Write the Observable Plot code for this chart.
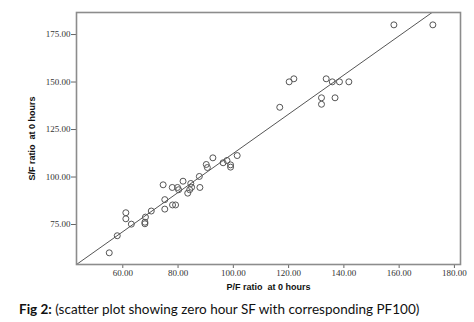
<!DOCTYPE html>
<html>
<head>
<meta charset="utf-8">
<script src="https://cdn.jsdelivr.net/npm/d3@7"></script>
<script src="https://cdn.jsdelivr.net/npm/@observablehq/plot@0.6"></script>
<style>
  html, body { margin: 0; padding: 0; background: #fff; }
  #chart svg { display: block; }
  #chart g[aria-label="x-axis label"] text,
  #chart g[aria-label="y-axis label"] text {
    font-family: "Liberation Sans", Arial, sans-serif;
    font-weight: bold;
    font-size: 9px;
    white-space: pre;
    fill: #111;
  }
  #caption {
    margin: 4px 0 0 19px;
    font-family: Lato, "DejaVu Sans", sans-serif;
    font-size: 13.5px;
    line-height: 18px;
    color: #111;
    white-space: nowrap;
  }
  #caption b { font-weight: bold; }
</style>
</head>
<body>
<div id="chart"></div>
<div id="caption"><b>Fig 2:</b> (scatter plot showing zero hour SF with corresponding PF100)</div>
<script>
// P/F ratio at 0 hours (x) and S/F ratio at 0 hours (y), one entry per patient
const pfRatio = [
  55.1, 58.0, 61.1, 61.1, 63.1, 68.0, 68.0, 68.2, 70.3, 75.2,
  75.2, 74.6, 78.0, 79.1, 77.9, 79.8, 80.2, 81.8, 84.6, 84.9,
  84.2, 83.5, 87.7, 87.9, 90.2, 90.6, 92.6, 96.3, 97.7, 99.0,
  99.0, 101.4, 116.8, 120.2, 121.9, 131.9, 131.9, 133.6, 135.8, 136.8,
  138.4, 141.8, 158.1, 172.2
];
const sfRatio = [
  60.1, 69.1, 81.2, 78.0, 75.2, 76.2, 75.4, 78.9, 82.1, 88.1,
  83.1, 95.9, 85.3, 85.3, 94.5, 94.5, 93.3, 97.8, 96.6, 94.6,
  93.3, 91.5, 100.3, 94.5, 106.6, 105.0, 110.1, 107.5, 108.7, 106.4,
  105.2, 111.3, 136.7, 150.1, 151.7, 141.7, 138.3, 151.7, 150.1, 141.7,
  150.1, 150.1, 180.1, 180.1
];

// Axis ticks
const xTicks = [60, 80, 100, 120, 140, 160, 180];
const yTicks = [75, 100, 125, 150, 175];

// Fitted line: S/F = intercept + slope * P/F
const fitIntercept = 9.36;
const fitSlope = 1.031;

const xDomain = [43.25, 182.2];
const yDomain = [53.95, 186.6];

const points = pfRatio.map((pf, i) => ({pf, sf: sfRatio[i]}));
const fitLine = xDomain.map(pf => ({pf, sf: fitIntercept + fitSlope * pf}));

const fmt = d3.format(".2f");

const chart = Plot.plot({
  width: 474,
  height: 296,
  marginLeft: 76,
  marginRight: 14,
  marginTop: 12,
  marginBottom: 32,
  style: {
    fontFamily: "'Liberation Serif', 'DejaVu Serif', serif",
    fontSize: "9px",
    color: "#333",
    background: "#fff"
  },
  x: {domain: xDomain},
  y: {domain: yDomain},
  marks: [
    Plot.axisX({
      ticks: xTicks,
      tickFormat: fmt,
      tickSize: 4,
      tickPadding: 1,
      stroke: "#666",
      label: "P/F ratio  at 0 hours",
      labelAnchor: "center",
      labelArrow: "none",
      labelOffset: 25
    }),
    Plot.axisY({
      ticks: yTicks,
      tickFormat: fmt,
      tickSize: 5,
      tickPadding: 1,
      stroke: "#666",
      label: "S/F ratio  at 0 hours",
      labelAnchor: "center",
      labelArrow: "none",
      labelOffset: 48
    }),
    Plot.line(fitLine, {x: "pf", y: "sf", stroke: "#555", strokeWidth: 1, clip: true}),
    Plot.dot(points, {x: "pf", y: "sf", r: 3, stroke: "#555", strokeWidth: 1, fill: "none"}),
    Plot.frame({stroke: "#8c8c8c", strokeWidth: 1.6})
  ]
});

document.getElementById("chart").append(chart);
</script>
</body>
</html>
